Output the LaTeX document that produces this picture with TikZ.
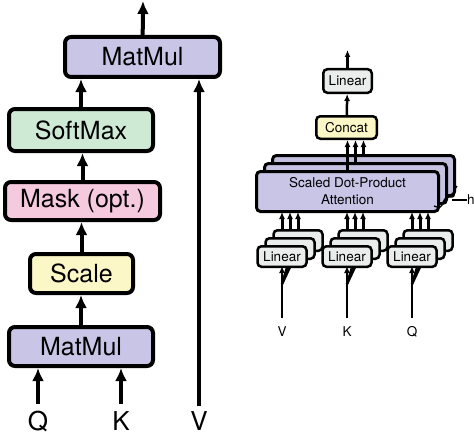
\documentclass[tikz,border=0pt]{standalone}
\usepackage{fontspec}
\setmainfont{TeX Gyre Heros}
\usetikzlibrary{arrows.meta}
\definecolor{mmpurple}{RGB}{201,197,231}
\definecolor{smgreen}{RGB}{206,233,212}
\definecolor{mkpink}{RGB}{246,202,222}
\definecolor{scyellow}{RGB}{251,247,198}
\definecolor{lngray}{RGB}{233,237,236}

\begin{document}
\begin{tikzpicture}[x=1pt,y=-1pt,
        box/.style={draw,line width=4pt,rounded corners=6pt,inner sep=0pt,
                    font=\fontsize{25}{28}\selectfont},
        sbox/.style={draw,line width=2.5pt,rounded corners=4pt,inner sep=0pt,align=center,
                    font=\fontsize{13.5}{17}\selectfont},
        lbl/.style={inner sep=0pt,font=\fontsize{26}{30}\selectfont},
        slbl/.style={inner sep=0pt,font=\fontsize{13.5}{16}\selectfont},
        arr/.style={-{Latex[length=13pt,width=12pt]},line width=4pt},
        sarr/.style={-{Latex[length=7pt,width=6pt]},line width=2.5pt}]
        \useasboundingbox (0,0) rectangle (474,436);
        % left: scaled dot-product attention
        \node[box,fill=mmpurple,minimum width=155pt,minimum height=40pt] (mm2) at (142.5,57) {MatMul};
        \node[box,fill=smgreen,minimum width=144pt,minimum height=42pt] (soft) at (81,130) {SoftMax};
        \node[box,fill=mkpink,minimum width=155pt,minimum height=38pt] (mask) at (82.5,201) {Mask (opt.)};
        \node[box,fill=scyellow,minimum width=103pt,minimum height=39pt] (scale) at (81.5,273.5) {Scale};
        \node[box,fill=mmpurple,minimum width=144pt,minimum height=39pt] (mm1) at (81,346.5) {MatMul};
        \node[lbl] (q) at (38,421) {Q};
        \node[lbl] (k) at (121,421) {K};
        \node[lbl] (v) at (199,421) {V};
        \coordinate (qin) at (38,404); \coordinate (kin) at (121,404); \coordinate (vin) at (199,406);
        \coordinate (out) at (143,1);
        \draw[arr] (mm2) -- (out);
        \draw[arr] (soft.north) -- (soft.north |- mm2.south);
        \draw[arr] (mask.north) -- (mask.north |- soft.south);
        \draw[arr] (scale.north) -- (scale.north |- mask.south);
        \draw[arr] (mm1.north) -- (mm1.north |- scale.south);
        \draw[arr] (qin) -- (qin |- mm1.south); \draw[arr] (kin) -- (kin |- mm1.south);
        \draw[arr] (vin) -- (vin |- mm2.south);
        % right: multi-head attention
        \node[sbox,fill=lngray,minimum width=48.5pt,minimum height=23.5pt] (lin) at (347.5,81) {Linear};
        \node[sbox,fill=scyellow,minimum width=60.5pt,minimum height=22.5pt] (cat) at (346.5,127.5) {Concat};
        \coordinate (out2) at (347.5,50);
        \draw[sarr] (lin) -- (out2); \draw[sarr] (cat) -- (lin);
        \node[sbox,line width=3pt,fill=mmpurple!90!gray,minimum width=182pt,minimum height=40pt] (att3) at (363.5,175.5) {};
        \node[sbox,line width=3pt,fill=mmpurple!95!gray,minimum width=182pt,minimum height=40pt] (att2) at (355.5,183.5) {};
        \node[sbox,line width=3pt,fill=mmpurple,minimum width=182pt,minimum height=40pt] (att1) at (347.5,191.5) {Scaled Dot-Product\\Attention};
        \draw[sarr] (att3.north) -- (att3.north |- cat.south);
        \draw[sarr] (att2.north) -- (att2.north |- cat.south);
        \draw[sarr] (att1.north) -- (att1.north |- cat.south);
        % h heads
        \node[slbl,anchor=west] (h) at (467,200) {h};
        \coordinate (hb) at (452,200);
        \draw[line width=1.3pt] (434,206) .. controls (446,212) and (440,196) .. (450,197) .. controls (458,198) and (452,189) .. (457,186);
        \draw[line width=1.3pt] (hb) -- (h.west);
        % V, K, Q inputs
        \node[slbl] (vs) at (282,332) {V};
        \node[slbl] (ks) at (347,332) {K};
        \node[slbl] (qs) at (412,332) {Q};
        \coordinate (vsin) at (282,318); \coordinate (ksin) at (347,318); \coordinate (qsin) at (412,318);
        \coordinate (vfk) at (282,284); \coordinate (kfk) at (347,284); \coordinate (qfk) at (412,284);
        \draw[line width=2.5pt] (vsin) -- (vfk); \draw[line width=2.5pt] (ksin) -- (kfk); \draw[line width=2.5pt] (qsin) -- (qfk);
        \draw[sarr] (vfk) -- (298,250); \draw[sarr] (vfk) -- (290,258); \draw[sarr] (vfk) -- (282,266);
        \draw[sarr] (kfk) -- (363,250); \draw[sarr] (kfk) -- (355,258); \draw[sarr] (kfk) -- (347,266);
        \draw[sarr] (qfk) -- (428,250); \draw[sarr] (qfk) -- (420,258); \draw[sarr] (qfk) -- (412,266);
        % linear stacks (back to front)
        \draw[sarr,line width=3pt] (298,230) -- (298,212); \draw[sarr,line width=3pt] (290,238) -- (290,212); \draw[sarr,line width=3pt] (282,246) -- (282,212);
        \draw[sarr,line width=3pt] (363,230) -- (363,212); \draw[sarr,line width=3pt] (355,238) -- (355,212); \draw[sarr,line width=3pt] (347,246) -- (347,212);
        \draw[sarr,line width=3pt] (428,230) -- (428,212); \draw[sarr,line width=3pt] (420,238) -- (420,212); \draw[sarr,line width=3pt] (412,246) -- (412,212);
        \node[sbox,fill=lngray,minimum width=49pt,minimum height=20.5pt] (lv3) at (298,240.5) {};
        \node[sbox,fill=lngray,minimum width=49pt,minimum height=20.5pt] (lk3) at (363,240.5) {};
        \node[sbox,fill=lngray,minimum width=49pt,minimum height=20.5pt] (lq3) at (428,240.5) {};
        \node[sbox,fill=lngray,minimum width=49pt,minimum height=20.5pt] (lv2) at (290,248.5) {};
        \node[sbox,fill=lngray,minimum width=49pt,minimum height=20.5pt] (lk2) at (355,248.5) {};
        \node[sbox,fill=lngray,minimum width=49pt,minimum height=20.5pt] (lq2) at (420,248.5) {};
        \node[sbox,fill=lngray,minimum width=49pt,minimum height=20.5pt] (lv1) at (282,256.5) {Linear};
        \node[sbox,fill=lngray,minimum width=49pt,minimum height=20.5pt] (lk1) at (347,256.5) {Linear};
        \node[sbox,fill=lngray,minimum width=49pt,minimum height=20.5pt] (lq1) at (412,256.5) {Linear};
    \end{tikzpicture}
\end{document}
